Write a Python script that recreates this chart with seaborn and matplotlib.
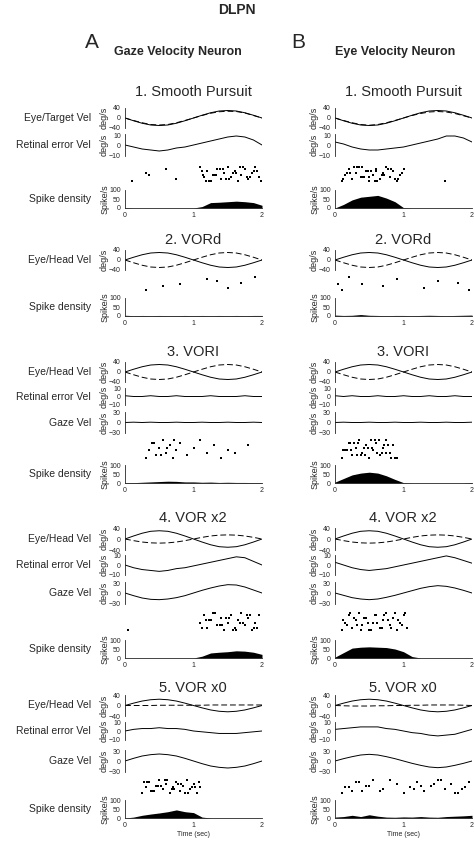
import numpy as np
import matplotlib.pyplot as plt
import seaborn as sns

sns.set_style("white")
plt.rcParams["font.family"] = ["Liberation Sans", "DejaVu Sans"]

t = [i * 0.125 for i in range(17)]

S = [0, 11, 21, 28, 30, 28, 21, 11, 0, -11, -21, -28, -30, -28, -21, -11, 0]
N = [-v for v in S]

panels = {
    "1. Smooth Pursuit": {
        "A": {"vel": [N, [0, -10, -19, -26, -28, -26, -19, -10, 0, 10, 19, 25, 27, 26, 20, 10, 0]],
              "ret": [0, -2, -4, -5, -6, -5, -3, -2, 0, 2, 4, 6, 8, 9, 8, 5, 0],
              "sd": [2, 0, 0, 0, 0, 0, 0, 0, 0, 8, 30, 32, 35, 38, 35, 30, 15],
              "spk": [0.1, 0.35, 0.6, 0.75, 0.3, 1.1, 1.15, 1.2, 1.25, 1.3, 1.35, 1.4, 1.45, 1.5, 1.55,
                      1.6, 1.65, 1.7, 1.75, 1.8, 1.85, 1.9, 1.95, 1.12, 1.22, 1.33, 1.43, 1.52, 1.62,
                      1.72, 1.82, 1.92, 1.18, 1.28, 1.38, 1.48, 1.58, 1.68, 1.78, 1.88, 1.98, 1.14]},
        "B": {"vel": [N, [0, -10, -19, -26, -29, -26, -19, -10, 0, 10, 18, 24, 26, 24, 18, 9, 0]],
              "ret": [3, 1, -2, -4, -5, -5, -4, -3, -2, 0, 2, 4, 6, 9, 9, 7, 3],
              "sd": [0, 20, 45, 60, 65, 70, 55, 35, 2, 0, 0, 0, 0, 0, 0, 0, 0],
              "spk": [0.1, 0.15, 0.2, 0.25, 0.3, 0.35, 0.4, 0.45, 0.5, 0.55, 0.6, 0.65, 0.7, 0.75, 0.8,
                      0.85, 0.9, 0.95, 1.0, 0.12, 0.22, 0.32, 0.42, 0.52, 0.62, 0.72, 0.82, 0.92,
                      0.18, 0.28, 0.38, 0.48, 0.58, 0.68, 0.78, 0.88, 0.98, 0.4, 0.5, 0.6, 1.6]},
    },
    "2. VORd": {
        "A": {"vel": [S, N], "ret": None, "gaze": None,
              "sd": [4, 2, 3, 2, 3, 2, 2, 3, 2, 3, 2, 3, 2, 3, 2, 3, 3],
              "spk": [0.3, 0.8, 1.2, 1.5, 1.7, 1.9, 0.55, 1.35]},
        "B": {"vel": [S, N], "ret": None, "gaze": None,
              "sd": [5, 3, 4, 8, 4, 3, 2, 3, 3, 2, 3, 4, 3, 2, 3, 4, 5],
              "spk": [0.1, 0.4, 0.9, 1.3, 1.8, 0.2, 0.7, 1.5, 1.95, 0.05]},
    },
    "3. VORl": {
        "A": {"vel": [S, N], "ret": [1, 0, 0, 1, 0, 0, 1, 0, 0, 0, 1, 0, 0, 0, 1, 0, 0],
              "gaze": [0, 1, 0, 1, 0, 0, 1, 0, 0, 1, 0, 0, 1, 0, 0, 1, 0],
              "sd": [2, 2, 4, 6, 8, 10, 9, 6, 6, 4, 5, 3, 4, 3, 3, 2, 2],
              "spk": [0.3, 0.35, 0.4, 0.45, 0.5, 0.55, 0.6, 0.65, 0.7, 0.75, 0.8, 0.9, 1.0, 1.1, 1.2,
                      1.3, 1.4, 1.5, 0.42, 0.52, 0.62, 0.72, 1.6, 1.8]},
        "B": {"vel": [S, N], "ret": [1, 0, 1, 0, 0, 1, 0, 0, 1, 0, 0, 1, 0, 0, 1, 0, 0],
              "gaze": [0, 1, 0, 0, 1, 0, 0, 1, 0, 0, 1, 0, 0, 1, 0, 0, 1],
              "sd": [5, 25, 45, 55, 60, 55, 40, 20, 2, 0, 0, 0, 0, 0, 0, 0, 3],
              "spk": [0.1, 0.15, 0.2, 0.25, 0.3, 0.35, 0.4, 0.45, 0.5, 0.55, 0.6, 0.65, 0.7, 0.75, 0.8,
                      0.85, 0.9, 0.12, 0.22, 0.32, 0.42, 0.52, 0.62, 0.72, 0.82, 0.18, 0.28, 0.38,
                      0.48, 0.58, 0.68, 0.78, 0.88, 0.24, 0.34, 0.44, 0.54, 0.64, 0.74, 0.84]},
    },
    "4. VOR x2": {
        "A": {"vel": [S, [0, -6, -11, -14, -15, -14, -11, -6, 0, 6, 11, 14, 15, 14, 11, 6, 0]],
              "ret": [0, -3, -5, -6, -7, -6, -4, -3, -1, 1, 3, 5, 7, 9, 8, 4, 0],
              "gaze": [0, -8, -15, -19, -20, -18, -14, -8, 0, 8, 15, 21, 25, 24, 18, 9, 0],
              "sd": [0, 0, 0, 0, 0, 0, 0, 0, 0, 10, 28, 32, 35, 40, 38, 32, 20],
              "spk": [0.05, 1.1, 1.15, 1.2, 1.25, 1.3, 1.35, 1.4, 1.45, 1.5, 1.55, 1.6, 1.65, 1.7,
                      1.75, 1.8, 1.85, 1.9, 1.95, 1.12, 1.22, 1.32, 1.42, 1.52, 1.62, 1.72, 1.82,
                      1.92, 1.18, 1.28, 1.38, 1.48, 1.58, 1.68, 1.78, 1.88]},
        "B": {"vel": [S, [0, -6, -11, -14, -15, -14, -11, -6, 0, 6, 11, 14, 15, 14, 11, 6, 0]],
              "ret": [3, 0, -3, -5, -6, -5, -4, -2, 0, 2, 4, 6, 8, 10, 8, 5, 2],
              "gaze": [0, -7, -14, -18, -20, -18, -13, -7, 0, 7, 14, 19, 22, 20, 15, 8, 0],
              "sd": [5, 30, 55, 60, 62, 60, 58, 50, 35, 8, 0, 0, 0, 0, 0, 0, 0],
              "spk": [0.1, 0.15, 0.2, 0.25, 0.3, 0.35, 0.4, 0.45, 0.5, 0.55, 0.6, 0.65, 0.7, 0.75, 0.8,
                      0.85, 0.9, 0.95, 1.0, 1.05, 0.12, 0.22, 0.32, 0.42, 0.52, 0.62, 0.72, 0.82,
                      0.92, 1.02, 0.18, 0.28, 0.38, 0.48, 0.58, 0.68, 0.78, 0.88, 0.98]},
    },
    "5. VOR x0": {
        "A": {"vel": [[0, 9, 17, 22, 24, 22, 17, 9, 0, -9, -17, -22, -24, -22, -17, -9, 0],
                      [0, 0, 0, 0, 1, 1, 1, 1, 1, 1, 2, 2, 2, 2, 2, 2, 2]],
              "ret": [0, 2, 3, 3, 4, 3, 3, 2, 0, -1, -2, -3, -3, -3, -2, -1, 0],
              "gaze": [0, 8, 15, 19, 21, 19, 15, 8, 0, -8, -15, -19, -21, -19, -15, -8, 0],
              "sd": [0, 5, 15, 22, 28, 35, 45, 35, 30, 5, 0, 0, 0, 0, 0, 0, 0],
              "spk": [0.25, 0.3, 0.35, 0.4, 0.45, 0.5, 0.55, 0.6, 0.65, 0.7, 0.75, 0.8, 0.85, 0.9,
                      0.95, 1.0, 1.05, 1.1, 0.32, 0.42, 0.52, 0.62, 0.72, 0.82, 0.92, 1.02, 0.28,
                      0.38, 0.48, 0.58, 0.68, 0.78, 0.88, 0.98, 1.08]},
        "B": {"vel": [[0, 9, 17, 22, 24, 22, 17, 9, 0, -9, -17, -22, -24, -22, -17, -9, 0],
                      [0, -1, -2, -2, -2, -1, -1, 0, 0, 1, 1, 2, 2, 2, 2, 1, 0]],
              "ret": [2, 3, 4, 5, 5, 5, 3, 2, 0, -2, -3, -5, -6, -5, -4, -1, 2],
              "gaze": [0, 7, 13, 18, 20, 18, 13, 7, 0, -7, -13, -18, -20, -18, -13, -7, 0],
              "sd": [5, 8, 15, 8, 18, 10, 5, 4, 6, 5, 8, 5, 4, 8, 10, 12, 15],
              "spk": [0.1, 0.2, 0.3, 0.4, 0.45, 0.55, 0.7, 0.9, 1.0, 1.1, 1.2, 1.3, 1.4, 1.5, 1.6,
                      1.7, 1.8, 1.9, 1.95, 0.25, 0.5, 0.8, 1.15, 1.45, 1.75, 0.15, 0.35, 0.65, 1.25,
                      1.55, 1.85]},
    },
}

# ---- layout in pixel rows (top, bottom) ----
layout = {
    "1. Smooth Pursuit": dict(title=92, vel=(108, 128), ret=(134, 156), gaze=None, ras=(165, 183), sd=(190, 208)),
    "2. VORd": dict(title=240, vel=(250, 270), ret=None, gaze=None, ras=(275, 292), sd=(298, 316)),
    "3. VORl": dict(title=352, vel=(362, 382), ret=(388, 405), gaze=(412, 433), ras=(438, 460), sd=(465, 483)),
    "4. VOR x2": dict(title=518, vel=(528, 550), ret=(555, 575), gaze=(582, 604), ras=(610, 633), sd=(640, 658)),
    "5. VOR x0": dict(title=688, vel=(695, 716), ret=(722, 740), gaze=(750, 772), ras=(778, 795), sd=(800, 818)),
}
cols = {"A": 125, "B": 335}
W, H = 474, 846
LX = 91
row_names = {"ret": "Retinal error Vel", "gaze": "Gaze Vel"}

fig = plt.figure(figsize=(W / 100, H / 100), dpi=100)


def add_ax(x0, top, bot):
    return fig.add_axes([x0 / W, 1 - bot / H, 137 / W, (bot - top) / H])


def style(ax, ticks, ylab, xaxis=False):
    ax.set_xlim(0, 2)
    ax.set_yticks(ticks)
    ax.tick_params(axis="y", labelsize=5, length=2, pad=1)
    sns.despine(ax=ax, top=True, right=True, bottom=not xaxis)
    ax.set_ylabel(ylab, fontsize=6.5, labelpad=0)
    if xaxis:
        ax.set_xticks([0, 1, 2])
        ax.tick_params(axis="x", labelsize=5, length=2, pad=1)
    else:
        ax.set_xticks([])
    for s in ax.spines.values():
        s.set_linewidth(0.6)


def row_label(text, rng):
    fig.text(LX / W, 1 - sum(rng) / 2 / H, text, ha="right", va="center", fontsize=7.5)


last = list(panels)[-1]
for name, cond in panels.items():
    L = layout[name]
    for c, d in cond.items():
        x0 = cols[c]
        fig.text((x0 + 68) / W, 1 - L["title"] / H, name.replace("VORl", "VORI"),
                 ha="center", va="center", fontsize=10.5)
        ax = add_ax(x0, *L["vel"])
        sns.lineplot(x=t, y=d["vel"][0], ax=ax, color="k", lw=0.7)
        sns.lineplot(x=t, y=d["vel"][1], ax=ax, color="k", lw=0.7, linestyle=(0, (6, 3)))
        ax.set_ylim(-40, 40)
        style(ax, [-40, 0, 40], "deg/s")
        if c == "A":
            row_label("Eye/Target Vel" if name.startswith("1") else "Eye/Head Vel", L["vel"])
        for key, lim, tk in [("ret", 10, [-10, 0, 10]), ("gaze", 30, [-30, 0, 30])]:
            if L[key] is None or d.get(key) is None:
                continue
            ax = add_ax(x0, *L[key])
            sns.lineplot(x=t, y=d[key], ax=ax, color="k", lw=0.7)
            ax.set_ylim(-lim * 1.1, lim * 1.1)
            style(ax, tk, "deg/s")
            if c == "A":
                row_label(row_names[key], L[key])
        ax = add_ax(x0, *L["ras"])
        spk = np.array(d["spk"])
        rows = (np.arange(len(spk)) * 3) % 8
        sns.scatterplot(x=spk, y=rows, ax=ax, color="k", s=0.6, marker="s", linewidth=0)
        ax.set_xlim(0, 2)
        ax.set_ylim(-1, 8)
        ax.axis("off")
        ax = add_ax(x0, *L["sd"])
        ax.fill_between(t, d["sd"], color="k", lw=0)
        ax.set_ylim(0, 100)
        style(ax, [0, 50, 100], "Spike/s", xaxis=True)
        if name == last:
            ax.set_xlabel("Time (sec)", fontsize=5, labelpad=1)
        if c == "A":
            row_label("Spike density", L["sd"])

fig.text(237 / W, 1 - 10 / H, "DLPN", ha="center", va="center", fontsize=10, weight="bold")
fig.text(92 / W, 1 - 42 / H, "A", ha="center", va="center", fontsize=15)
fig.text(298 / W, 1 - 42 / H, "B", ha="center", va="center", fontsize=15)
fig.text(178 / W, 1 - 52 / H, "Gaze Velocity Neuron", ha="center", va="center", fontsize=9, weight="bold")
fig.text(395 / W, 1 - 52 / H, "Eye Velocity Neuron", ha="center", va="center", fontsize=9, weight="bold")

fig.savefig("out.png", dpi=100)
